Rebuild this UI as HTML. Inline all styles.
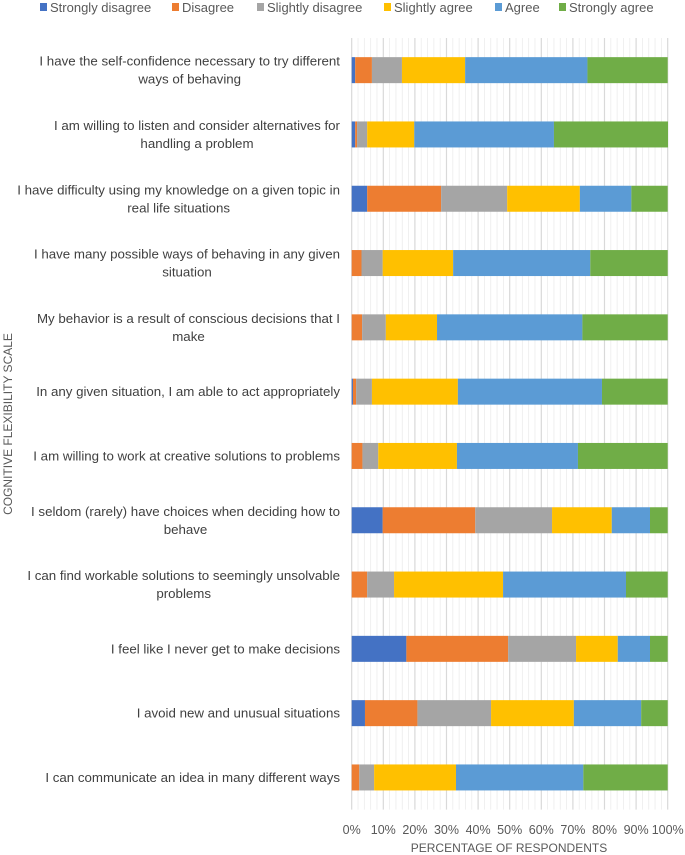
<!DOCTYPE html>
<html><head><meta charset="utf-8"><style>
html,body{margin:0;padding:0;background:#fff;}
svg{display:block;font-family:"Liberation Sans",sans-serif;}
</style></head><body>
<svg id="chart" width="685" height="855" viewBox="0 0 685 855"></svg>
<script>
const categories = [
 ["I have the self-confidence necessary to try different","ways of behaving"],
 ["I am willing to listen and consider alternatives for","handling a problem"],
 ["I have difficulty using my knowledge on a given topic in","real life situations"],
 ["I have many possible ways of behaving in any given","situation"],
 ["My behavior is a result of conscious decisions that I","make"],
 ["In any given situation, I am able to act appropriately"],
 ["I am willing to work at creative solutions to problems"],
 ["I seldom (rarely) have choices when deciding how to","behave"],
 ["I can find workable solutions to seemingly unsolvable","problems"],
 ["I feel like I never get to make decisions"],
 ["I avoid new and unusual situations"],
 ["I can communicate an idea in many different ways"]
];
const seriesNames = ["Strongly disagree","Disagree","Slightly disagree","Slightly agree","Agree","Strongly agree"];
const stronglyDisagree = [1.1,1.1,4.9,0,0,0.4,0,9.8,0,17.3,4.2,0];
const disagree        = [5.3,0.6,23.4,3.1,3.3,1.0,3.4,29.3,4.9,32.2,16.6,2.4];
const slightlyDisagree= [9.5,3.2,20.9,6.7,7.5,5.0,5.0,24.3,8.5,21.5,23.3,4.7];
const slightlyAgree   = [20.0,14.9,23.0,22.3,16.2,27.2,24.9,18.9,34.5,13.2,26.2,25.9];
const agree           = [38.7,44.2,16.3,43.4,46.0,45.6,38.3,12.1,38.9,10.2,21.3,40.3];
const stronglyAgree   = [25.4,36.1,11.5,24.5,27.0,20.8,28.4,5.6,13.2,5.6,8.4,26.7];
const tickLabels = ["0%","10%","20%","30%","40%","50%","60%","70%","80%","90%","100%"];

const series=[stronglyDisagree,disagree,slightlyDisagree,slightlyAgree,agree,stronglyAgree];
const colors=["#4472c4","#ed7d31","#a5a5a5","#ffc000","#5b9bd5","#70ad47"];
const NS="http://www.w3.org/2000/svg";
const svg=document.getElementById('chart');
const X0=351.7,X1=667.7,Y0=38,Y1=809.6;
const band=(Y1-Y0)/categories.length, barH=26;
function xs(v){return X0+(X1-X0)*v/100;}
function yc(i){return Y0+band*(i+0.5);}
function mk(t,a,p){const e=document.createElementNS(NS,t);for(const k in a)e.setAttribute(k,a[k]);(p||svg).appendChild(e);return e;}

const grid=mk('g',{});


for(let p=0;p<=100;p+=2){
  const major=p%10===0;
  mk('line',{x1:xs(p),x2:xs(p),y1:Y0,y2:Y1,stroke:major?'#d9d9d9':'#ececec','stroke-width':major?1.2:0.8},grid);
}
categories.forEach((c,i)=>{
  let acc=0;
  series.forEach((s,j)=>{
    const v=s[i];
    const r=mk('rect',{x:xs(acc),y:yc(i)-barH/2,width:Math.max(0,xs(acc+v)-xs(acc)),height:barH,fill:colors[j]});
    
    
    acc+=v;
  });
  const t=mk('text',{'text-anchor':'middle','font-size':13.3,fill:'#404040'});
  
  
  const n=c.length;
  const spans=c.map((line,k)=>{
    const ts=mk('tspan',{x:0,y:yc(i)+4.5+(k-(n-1)/2)*18},t);
    ts.textContent=line;
    return ts;
  });
  let maxW=0;
  spans.forEach(s=>{maxW=Math.max(maxW,s.getComputedTextLength());});
  const cx=340-maxW/2;
  spans.forEach(s=>s.setAttribute('x',cx));
});
tickLabels.forEach((lb,k)=>{
  const t=mk('text',{x:xs(k*10),y:834,'text-anchor':'middle','font-size':12.5,fill:'#595959'});
  
  
  t.textContent=lb;
});
const xt=mk('text',{x:509,y:852,'text-anchor':'middle','font-size':12,fill:'#595959'});


xt.textContent='PERCENTAGE OF RESPONDENTS';
const yt=mk('text',{x:0,y:0,'text-anchor':'middle','font-size':12,fill:'#595959',transform:'translate(12,424) rotate(-90)'});


yt.textContent='COGNITIVE FLEXIBILITY SCALE';
const lx=[40,172,257,384,495,559];
seriesNames.forEach((n,j)=>{
  const g=mk('g',{});
  
  
  mk('rect',{x:lx[j],y:3,width:7,height:8,fill:colors[j]},g);
  const t=mk('text',{x:lx[j]+10,y:12,'font-size':13,fill:'#595959'},g);
  t.textContent=n;
});
</script>
</body></html>
